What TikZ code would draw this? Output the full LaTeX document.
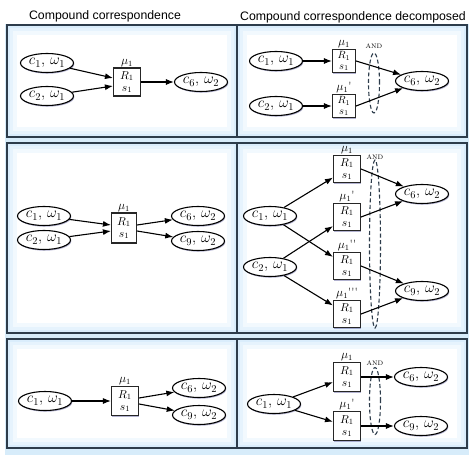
\RequirePackage{fix-cm}
\documentclass[tikz,border=0pt]{standalone}
\usepackage{fontspec}
\newfontfamily\titlefont{Liberation Sans}
\usetikzlibrary{shapes.geometric,shadows,arrows.meta}
\definecolor{pedge}{RGB}{45,60,75}
\definecolor{pb1}{RGB}{218,237,252}
\definecolor{pb2}{RGB}{230,243,253}
\definecolor{pb3}{RGB}{242,249,254}
\definecolor{glow}{RGB}{215,236,250}
\newcommand\mypanelfill[4]{%
  \fill[glow] (#1-2,#2-1) rectangle (#3+2,#4+7);
  \fill[pb1] (#1,#2) rectangle (#3,#4);
  \fill[pb2] (#1+3,#2+3) rectangle (#3-3,#4-3);
  \fill[pb3] (#1+6,#2+6) rectangle (#3-6,#4-6);
  \fill[white] (#1+10,#2+10) rectangle (#3-10,#4-10);}
\newcommand\mypaneledge[4]{\draw[pedge,line width=1.1pt] (#1,#2) rectangle (#3,#4);}
\newcommand\pr{\textquotesingle}
\newcommand\cw[2]{$c_{#1},\,\omega_{#2}$}
\begin{document}
\begin{tikzpicture}[x=1pt,y=-1pt,
  ell/.style={ellipse, draw=black, line width=1.1pt, fill=white, minimum width=53pt, minimum height=19pt, inner sep=0pt,
    font=\fontsize{15}{16}\selectfont, drop shadow={shadow xshift=0.8pt, shadow yshift=-1.2pt, fill=blue!40!black, opacity=0.3}},
  mbox/.style={rectangle, draw=black!85, line width=1.1pt, fill=white, minimum width=27pt, minimum height=28pt, inner sep=0.5pt,
    align=center, font=\fontsize{11.5}{12}\selectfont, drop shadow={shadow xshift=0.8pt, shadow yshift=-1.2pt, fill=blue!40!black, opacity=0.3}},
  smallbox/.style={mbox, minimum width=23pt, minimum height=23pt, font=\fontsize{10.5}{10.5}\selectfont},
  mu/.style={label={[font=\fontsize{12}{12}\selectfont, inner sep=0.5pt, label distance=0pt]above:#1}},
  arr/.style={-{Latex[length=8pt,width=6pt]}, line width=1.1pt},
  andlbl/.style={font=\fontsize{6.5}{6.5}\selectfont, inner sep=0pt},
  andell/.style={ellipse, draw=pedge, dashed, dash pattern=on 4pt off 2.5pt, line width=1.1pt, inner sep=0pt, minimum width=11pt},
  ttl/.style={font=\titlefont\fontsize{12.3}{14}\selectfont, inner sep=0pt}]
\useasboundingbox (0,0) rectangle (474,474);
\fill[white] (0,0) rectangle (474,474);
% panels
\mypanelfill{7}{25}{237}{137}
\mypanelfill{237}{25}{467}{137}
\mypanelfill{7}{143}{237}{333}
\mypanelfill{237}{143}{467}{333}
\mypanelfill{7}{339}{237}{448}
\mypanelfill{237}{339}{467}{448}
\mypaneledge{7}{25}{237}{137}
\mypaneledge{237}{25}{467}{137}
\mypaneledge{7}{143}{237}{333}
\mypaneledge{237}{143}{467}{333}
\mypaneledge{7}{339}{237}{448}
\mypaneledge{237}{339}{467}{448}
% titles
\node[ttl] (t1) at (105,16) {Compound correspondence};
\node[ttl] (t2) at (353,17) {Compound correspondence decomposed};
% row 1 left
\node[ell] (aA) at (47,63) {\cw{1}{1}};
\node[ell] (aB) at (47,96) {\cw{2}{1}};
\node[mbox, mu=$\mu_1$] (aM) at (127,82) {$R_1$\\$s_1$};
\node[ell] (aC) at (201,82) {\cw{6}{2}};
\draw[arr] (aA) -- ([yshift=4pt]aM.west);
\draw[arr] (aB) -- ([yshift=-4pt]aM.west);
\draw[arr] (aM) -- (aC);
% row 1 right
\node[ell] (bA) at (276,61) {\cw{1}{1}};
\node[ell] (bB) at (276,106) {\cw{2}{1}};
\node[smallbox, mu=$\mu_1$] (bM1) at (344,61) {$R_1$\\$s_1$};
\node[smallbox, mu=$\mu_1$\pr] (bM2) at (344,106) {$R_1$\\$s_1$};
\node[ell] (bC) at (422,81) {\cw{6}{2}};
\node[andlbl] (bAnd) at (374,46) {AND};
\node[andell, minimum height=60pt] (bE) at (374,83) {};
\draw[arr] (bA) -- (bM1);
\draw[arr] (bB) -- (bM2);
\draw[arr] (bM1.east) -- (bC);
\draw[arr] (bM2.east) -- (bC);
% row 2 left
\node[ell] (cA) at (44,216) {\cw{1}{1}};
\node[ell] (cB) at (44,240) {\cw{2}{1}};
\node[mbox, minimum height=30pt, minimum width=25pt, mu=$\mu_1$] (cM) at (124,228) {$R_1$\\$s_1$};
\node[ell] (cC) at (198,216) {\cw{6}{2}};
\node[ell] (cD) at (198,241) {\cw{9}{2}};
\draw[arr] (cA) -- ([yshift=3pt]cM.west);
\draw[arr] (cB) -- ([yshift=-3pt]cM.west);
\draw[arr] ([yshift=3pt]cM.east) -- (cC);
\draw[arr] ([yshift=-3pt]cM.east) -- (cD);
% row 2 right
\node[ell] (dA) at (270,216) {\cw{1}{1}};
\node[ell] (dB) at (270,267) {\cw{2}{1}};
\node[mbox, minimum height=27pt, mu=$\mu_1$] (dM1) at (347,169) {$R_1$\\$s_1$};
\node[mbox, minimum height=27pt, mu=$\mu_1$\pr] (dM2) at (347,217) {$R_1$\\$s_1$};
\node[mbox, minimum height=27pt, mu=$\mu_1$\pr\pr] (dM3) at (347,266) {$R_1$\\$s_1$};
\node[mbox, minimum height=27pt, mu=$\mu_1$\pr\pr\pr] (dM4) at (347,314) {$R_1$\\$s_1$};
\node[ell] (dC) at (422,194) {\cw{6}{2}};
\node[ell] (dD) at (422,291) {\cw{9}{2}};
\node[andlbl] (dAnd) at (375,157) {AND};
\node[andell, minimum height=168pt] (dE) at (375,244) {};
\draw[arr] (dA) -- (dM1);
\draw[arr] (dA) -- (dM3);
\draw[arr] (dB) -- (dM2);
\draw[arr] (dB) -- (dM4);
\draw[arr] (dM1.east) -- (dC);
\draw[arr] (dM2.east) -- (dC);
\draw[arr] (dM3.east) -- (dD);
\draw[arr] (dM4.east) -- (dD);
% row 3 left
\node[ell] (eA) at (45,401) {\cw{1}{1}};
\node[mbox, minimum height=29pt, minimum width=27pt, mu=$\mu_1$] (eM) at (125,401) {$R_1$\\$s_1$};
\node[ell] (eC) at (199,388) {\cw{6}{2}};
\node[ell] (eD) at (199,415) {\cw{9}{2}};
\draw[arr] (eA) -- (eM);
\draw[arr] ([yshift=3pt]eM.east) -- (eC);
\draw[arr] ([yshift=-3pt]eM.east) -- (eD);
% row 3 right
\node[ell] (fA) at (274,404) {\cw{1}{1}};
\node[mbox, minimum height=29pt, mu=$\mu_1$] (fM1) at (347,377) {$R_1$\\$s_1$};
\node[mbox, minimum height=29pt, mu=$\mu_1$\pr] (fM2) at (347,426) {$R_1$\\$s_1$};
\node[ell] (fC) at (421,377) {\cw{6}{2}};
\node[ell] (fD) at (421,426) {\cw{9}{2}};
\node[andlbl] (fAnd) at (375,363) {AND};
\node[andell, minimum height=67pt] (fE) at (375,401) {};
\draw[arr] (fA) -- (fM1);
\draw[arr] (fA) -- (fM2);
\draw[arr] (fM1) -- (fC);
\draw[arr] (fM2) -- (fD);
\end{tikzpicture}
\end{document}
